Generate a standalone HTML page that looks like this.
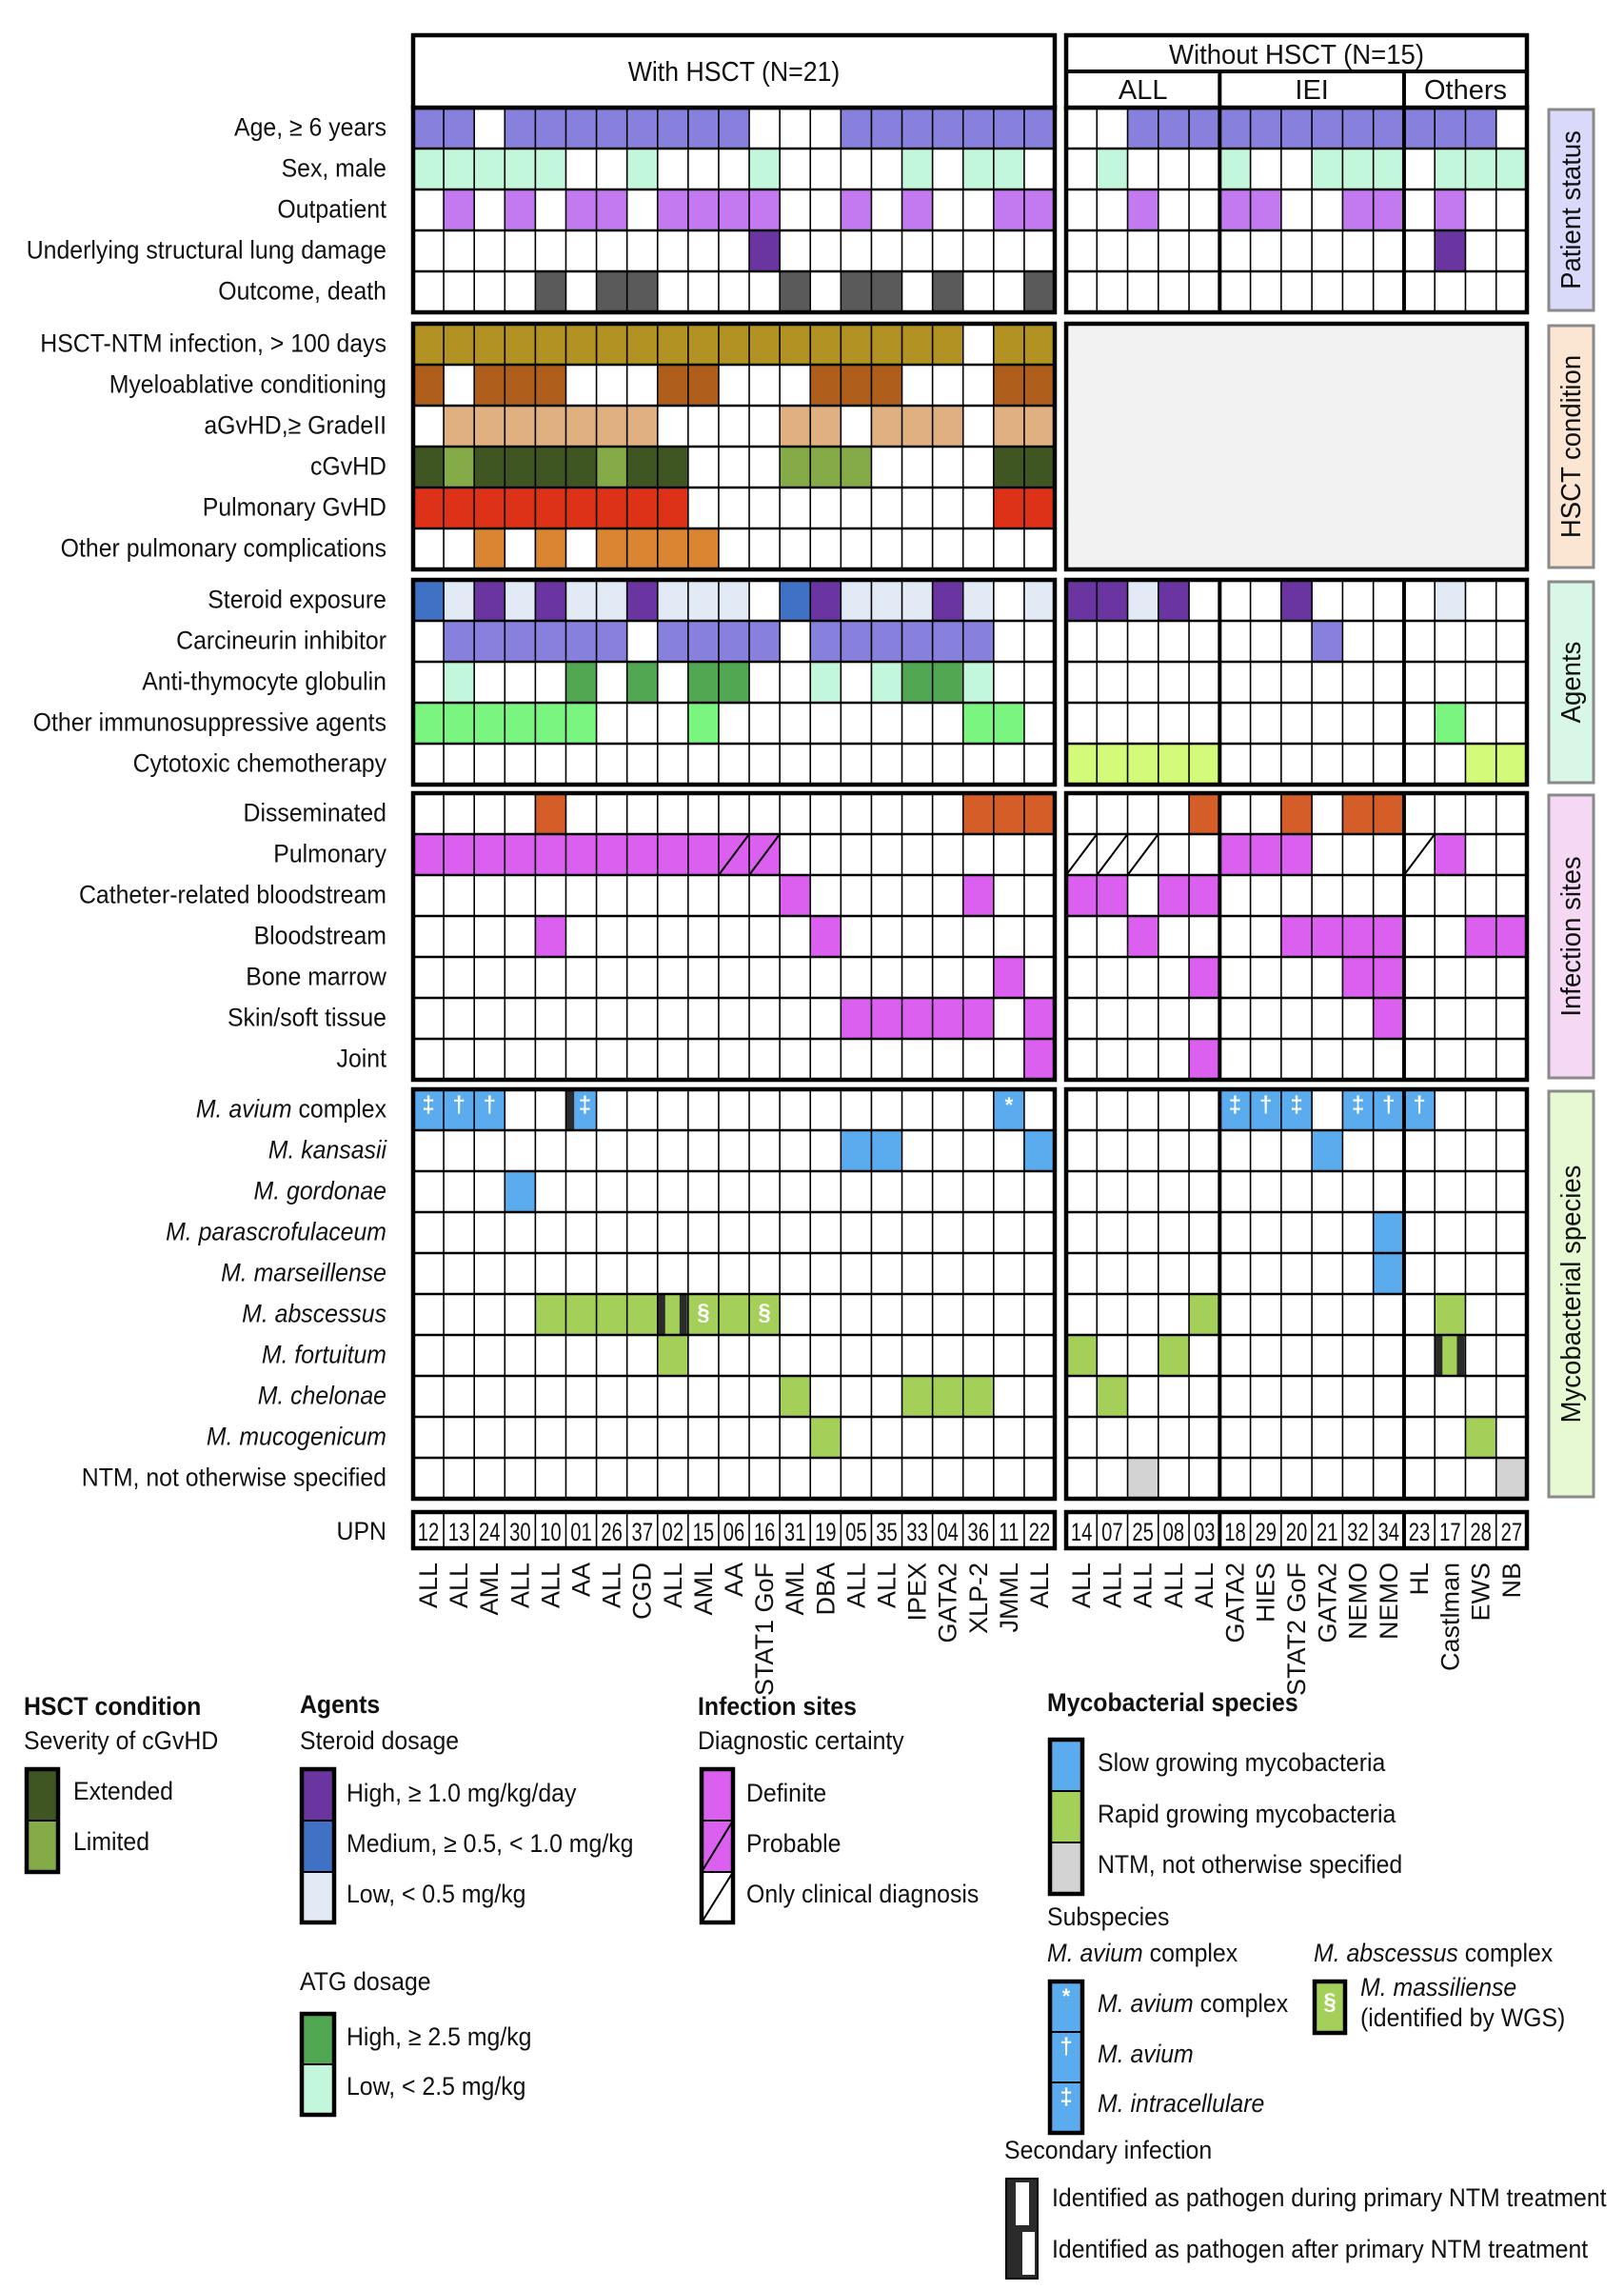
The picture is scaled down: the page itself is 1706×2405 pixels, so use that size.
<!DOCTYPE html>
<html><head><meta charset="utf-8"><style>
html,body{margin:0;padding:0;background:#fff;}
svg{display:block;font-family:"Liberation Sans",sans-serif;}
</style></head><body>
<svg id="chart" width="1706" height="2405" viewBox="0 0 1706 2405" xmlns="http://www.w3.org/2000/svg"></svg>
<script>
// ---- data ----
const upnLeft = ['12','13','24','30','10','01','26','37','02','15','06','16','31','19','05','35','33','04','36','11','22'];
const dxLeft = ['ALL','ALL','AML','ALL','ALL','AA','ALL','CGD','ALL','AML','AA','STAT1 GoF','AML','DBA','ALL','ALL','IPEX','GATA2','XLP-2','JMML','ALL'];
const upnRight = ['14','07','25','08','03','18','29','20','21','32','34','23','17','28','27'];
const dxRight = ['ALL','ALL','ALL','ALL','ALL','GATA2','HIES','STAT2 GoF','GATA2','NEMO','NEMO','HL','Castlman','EWS','NB'];

const ageL = '110111111110001111111';
const ageR = '001111111111110';
const sexL = '111110010001000010110';
const sexR = '010001001110111';
const outL = '010101101111001010011';
const outR = '001001100110100';
const lungL = '000000000001000000000';
const lungR = '000000000000100';
const deathL = '000010110000101101001';
const deathR = '000000000000000';
const hsctL = '111111111111111111011';
const maL = '101110001100011100011';
const agvhdL = '011111110000110111011';
const cgvhdL = 'ELEEEELEE000LLL0000EE';
const pgvhdL = '111111111000000000011';
const opcL = '001010111100000000000';
const steroidL = 'MLHLHLLHLLL0MHLLLHL0L';
const steroidR = 'HHLH000H0000L00';
const cniL = '011111101111011111100';
const cniR = '000000001000000';
const atgL = '0L000H0H0HH00L0LHHL00';
const atgR = '000000000000000';
const otherIsL = '111111000100000000110';
const otherIsR = '000000000000100';
const cytoL = '000000000000000000000';
const cytoR = '111110000000011';
const dissL = '000010000000000000111';
const dissR = '000010010110000';
const pulmL = 'DDDDDDDDDDPP000000000';
const pulmR = 'CCC00DDD000CD00';
const cathL = '000000000000100000100';
const cathR = '110110000000000';
const bloodL = '000010000000010000000';
const bloodR = '001000011110011';
const bmL = '000000000000000000010';
const bmR = '000010000110000';
const skinL = '000000000000001111101';
const skinR = '000000000010000';
const jointL = '000000000000000000001';
const jointR = '000010000000000';
const macL = ['S‡','S†','S†','','','Sx‡','','','','','','','','','','','','','','S*',''];
const macR = ['','','','','','S‡','S†','S‡','','S‡','S†','S†','','',''];
const kanL = ['','','','','','','','','','','','','','','S','S','','','','','S'];
const kanR = ['','','','','','','','','S','','','','','',''];
const gorL = ['','','','S','','','','','','','','','','','','','','','','',''];
const gorR = ['','','','','','','','','','','','','','',''];
const parL = ['','','','','','','','','','','','','','','','','','','','',''];
const parR = ['','','','','','','','','','','S','','','',''];
const marL = ['','','','','','','','','','','','','','','','','','','','',''];
const marR = ['','','','','','','','','','','S','','','',''];
const absL = ['','','','','R','R','R','R','Ry','R§','R','R§','','','','','','','','',''];
const absR = ['','','','','R','','','','','','','','R','',''];
const fortL = ['','','','','','','','','R','','','','','','','','','','','',''];
const fortR = ['R','','','R','','','','','','','','','Ry','',''];
const cheL = ['','','','','','','','','','','','','R','','','','R','R','R','',''];
const cheR = ['','R','','','','','','','','','','','','',''];
const mucL = ['','','','','','','','','','','','','','R','','','','','','',''];
const mucR = ['','','','','','','','','','','','','','R',''];
const nosL = ['','','','','','','','','','','','','','','','','','','','',''];
const nosR = ['','','N','','','','','','','','','','','','N'];

// ---- layout ----
const NS='http://www.w3.org/2000/svg';
const svg=document.getElementById('chart');
const LX0=434, LX1=1108, RX0=1120, RX1=1604;
const LCW=(LX1-LX0)/upnLeft.length, RCW=(RX1-RX0)/upnRight.length;
const RH=43;
const xL=i=>LX0+i*LCW, xR=i=>RX0+i*RCW;

function mk(tag,attrs,name,inter,parent){
  const el=document.createElementNS(NS,tag);
  for(const k in attrs) el.setAttribute(k,attrs[k]);
  
  
  (parent||svg).appendChild(el);
  return el;
}
function txt(x,y,parts,o){
  o=o||{};
  const sx=o.sx||0.92;
  let tr='translate('+x+','+y+')';
  if(o.rot) tr+=' rotate('+o.rot+')';
  tr+=' scale('+sx+',1)';
  const t=mk('text',{transform:tr,'font-size':o.size||27,'text-anchor':o.anchor||'start',
    'font-weight':o.weight||'normal',fill:o.fill||'#111'},o.name||'label',false);
  if(typeof parts==='string') parts=[[parts,false]];
  parts.forEach(p=>{
    const ts=document.createElementNS(NS,'tspan');
    ts.textContent=p[0];
    if(p[1]) ts.setAttribute('font-style','italic');
    t.appendChild(ts);
  });
  return t;
}
function ltxt(x,y,parts,o){ return txt(x,y-5,parts,o); }

const colors={
  age:{'1':'#8880dd'}, sex:{'1':'#c3f7dc'}, out:{'1':'#c37af0'}, lung:{'1':'#6a35a0'}, death:{'1':'#5a5a5a'},
  hsct:{'1':'#b39224'}, ma:{'1':'#b05e1c'}, agvhd:{'1':'#e0b081'}, cgvhd:{E:'#3f5522',L:'#85ab48'},
  pgvhd:{'1':'#dd3218'}, opc:{'1':'#d98532'},
  steroid:{H:'#6a35a0',M:'#3f72c4',L:'#e2eaf5'}, cni:{'1':'#8880dd'}, atg:{H:'#52a852',L:'#c3f7dc'},
  otheris:{'1':'#7af57f'}, cyto:{'1':'#d4fa7a'},
  diss:{'1':'#d45d28'}, inf:{'1':'#dc60f0',D:'#dc60f0',P:'#dc60f0',C:'#ffffff'},
  sp:{S:'#5aacee',R:'#a4d05a',N:'#d3d3d3'}
};

const groups=[
  {top:113,title:'Patient status',bg:'#d9d9fa',rows:[
    ['Age, ≥ 6 years',ageL,ageR,'age'],['Sex, male',sexL,sexR,'sex'],['Outpatient',outL,outR,'out'],
    ['Underlying structural lung damage',lungL,lungR,'lung'],['Outcome, death',deathL,deathR,'death']]},
  {top:340,title:'HSCT condition',bg:'#fbe5d3',noRight:true,rows:[
    ['HSCT-NTM infection, > 100 days',hsctL,null,'hsct'],['Myeloablative conditioning',maL,null,'ma'],
    ['aGvHD,≥ GradeII',agvhdL,null,'agvhd'],['cGvHD',cgvhdL,null,'cgvhd'],['Pulmonary GvHD',pgvhdL,null,'pgvhd'],
    ['Other pulmonary complications',opcL,null,'opc']]},
  {top:609,title:'Agents',bg:'#d9f7e6',rows:[
    ['Steroid exposure',steroidL,steroidR,'steroid'],['Carcineurin inhibitor',cniL,cniR,'cni'],
    ['Anti-thymocyte globulin',atgL,atgR,'atg'],['Other immunosuppressive agents',otherIsL,otherIsR,'otheris'],
    ['Cytotoxic chemotherapy',cytoL,cytoR,'cyto']]},
  {top:833,title:'Infection sites',bg:'#f4d8f4',rows:[
    ['Disseminated',dissL,dissR,'diss'],['Pulmonary',pulmL,pulmR,'inf'],['Catheter-related bloodstream',cathL,cathR,'inf'],
    ['Bloodstream',bloodL,bloodR,'inf'],['Bone marrow',bmL,bmR,'inf'],['Skin/soft tissue',skinL,skinR,'inf'],['Joint',jointL,jointR,'inf']]},
  {top:1144,title:'Mycobacterial species',bg:'#e6f9d3',rows:[
    [[['M. avium',true],[' complex',false]],macL,macR,'sp'],[[['M. kansasii',true]],kanL,kanR,'sp'],
    [[['M. gordonae',true]],gorL,gorR,'sp'],[[['M. parascrofulaceum',true]],parL,parR,'sp'],
    [[['M. marseillense',true]],marL,marR,'sp'],[[['M. abscessus',true]],absL,absR,'sp'],
    [[['M. fortuitum',true]],fortL,fortR,'sp'],[[['M. chelonae',true]],cheL,cheR,'sp'],
    [[['M. mucogenicum',true]],mucL,mucR,'sp'],['NTM, not otherwise specified',nosL,nosR,'sp']]}
];

function drawCell(code,x,y,w,h,map,name){
  if(!code||code==='0') return;
  const c=code[0];
  const fill=map[c];
  if(!fill) return;
  mk('rect',{x:x,y:y,width:w,height:h,fill:fill},name,false);
  if(c==='P'||c==='C'){
    mk('line',{x1:x,y1:y+h,x2:x+w,y2:y,stroke:'#000','stroke-width':2},name+'-slash',false);
  }
  let sym=code.slice(1);
  if(sym[0]==='x'){ mk('rect',{x:x,y:y,width:w*0.27,height:h,fill:'#2b2b2b'},'secondary-after-marker',false); sym=sym.slice(1); }
  if(sym[0]==='y'){
    mk('rect',{x:x,y:y,width:w*0.25,height:h,fill:'#2b2b2b'},'secondary-during-marker',false);
    mk('rect',{x:x+w*0.72,y:y,width:w*0.25,height:h,fill:'#2b2b2b'},'secondary-during-marker',false);
    mk('rect',{x:x+w*0.97,y:y,width:w*0.03,height:h,fill:'#fff'},'secondary-gap',false);
    sym=sym.slice(1);
  }
  if(sym){
    const cx=x+w*(code.indexOf('x')===1?0.62:0.5);
    txt(cx,y+(sym==='§'?27:24),sym,{size:sym==='*'?22:24,anchor:'middle',fill:'#fff',weight:'bold',sx:1,name:'subspecies-symbol'});
  }
}

function gridLines(x0,x1,n,top,rows,thick){
  const cw=(x1-x0)/n, bottom=top+rows*RH;
  for(let i=1;i<n;i++){
    const w=thick.indexOf(i)>=0?4:1.6;
    mk('line',{x1:x0+i*cw,y1:top,x2:x0+i*cw,y2:bottom,stroke:'#000','stroke-width':w},'grid-vline',false);
  }
  for(let r=1;r<rows;r++){
    mk('line',{x1:x0,y1:top+r*RH,x2:x1,y2:top+r*RH,stroke:'#000','stroke-width':2.6},'grid-hline',false);
  }
  mk('rect',{x:x0,y:top,width:x1-x0,height:bottom-top,fill:'none',stroke:'#000','stroke-width':4.5},'grid-border',false);
}

groups.forEach((g,gi)=>{
  const n=g.rows.length, bottom=g.top+n*RH;
  g.rows.forEach((row,ri)=>{
    const y=g.top+ri*RH;
    const lab=typeof row[0]==='string'?[[row[0],false]]:row[0];
    txt(406,y+RH/2+8,lab,{anchor:'end',name:'row-label'});
    const L=row[1], R=row[2];
    for(let c=0;c<upnLeft.length;c++){
      drawCell(L[c],xL(c),y,LCW,RH,colors[row[3]],'cell');
    }
    if(R){
      for(let c=0;c<upnRight.length;c++){
        drawCell(R[c],xR(c),y,RCW,RH,colors[row[3]],'cell');
      }
    }
  });
  gridLines(LX0,LX1,upnLeft.length,g.top,n,[]);
  if(g.noRight){
    mk('rect',{x:RX0,y:g.top,width:RX1-RX0,height:bottom-g.top,fill:'#f2f2f2',stroke:'#000','stroke-width':4.5},'no-hsct-placeholder',false);
  } else {
    gridLines(RX0,RX1,upnRight.length,g.top,n,[5,11]);
  }
  mk('rect',{x:1627,y:g.top+2,width:47,height:bottom-g.top-4,fill:g.bg,stroke:'#8a8a8a','stroke-width':3},'group-label-box',false);
  txt(1660,(g.top+bottom)/2,g.title,{rot:-90,anchor:'middle',size:29,sx:0.95,name:'group-label'});
});

// headers
mk('rect',{x:LX0,y:37,width:LX1-LX0,height:76,fill:'#fff',stroke:'#000','stroke-width':4.5},'with-hsct-header',false);
txt((LX0+LX1)/2,85,'With HSCT (N=21)',{anchor:'middle',size:29,sx:0.92,name:'with-hsct-title'});
mk('rect',{x:RX0,y:37,width:RX1-RX0,height:76,fill:'#fff',stroke:'#000','stroke-width':4.5},'without-hsct-header',false);
mk('line',{x1:RX0,y1:75,x2:RX1,y2:75,stroke:'#000','stroke-width':4},'header-divider',false);
mk('line',{x1:xR(5),y1:75,x2:xR(5),y2:113,stroke:'#000','stroke-width':4},'header-divider',false);
mk('line',{x1:xR(11),y1:75,x2:xR(11),y2:113,stroke:'#000','stroke-width':4},'header-divider',false);
txt((RX0+RX1)/2,67,'Without HSCT (N=15)',{anchor:'middle',size:29,sx:0.95,name:'without-hsct-title'});
txt((xR(0)+xR(5))/2,104,'ALL',{anchor:'middle',size:29,sx:1,name:'subgroup-all'});
txt((xR(5)+xR(11))/2,104,'IEI',{anchor:'middle',size:29,sx:1,name:'subgroup-iei'});
txt((xR(11)+RX1)/2,104,'Others',{anchor:'middle',size:29,sx:1,name:'subgroup-others'});

// UPN row
txt(406,1617,'UPN',{anchor:'end',name:'upn-label'});
function upnBox(x0,x1,upns,dxs,xf,cw,thick){
  for(let i=0;i<upns.length;i++){
    txt(xf(i)+cw/2,1618,upns[i],{anchor:'middle',size:27,sx:0.75,name:'upn-number'});
    txt(xf(i)+cw/2+9,1641,dxs[i],{anchor:'end',rot:-90,size:27,sx:1,name:'diagnosis-label'});
    if(i>0){
      mk('line',{x1:xf(i),y1:1588,x2:xf(i),y2:1626,stroke:'#000','stroke-width':thick.indexOf(i)>=0?4:1.6},'upn-divider',false);
    }
  }
  mk('rect',{x:x0,y:1588,width:x1-x0,height:38,fill:'none',stroke:'#000','stroke-width':4.5},'upn-box',false);
}
upnBox(LX0,LX1,upnLeft,dxLeft,xL,LCW,[]);
upnBox(RX0,RX1,upnRight,dxRight,xR,RCW,[5,11]);

// ---- legend ----
function sw(x,y,w,h,fill,name){ return mk('rect',{x:x,y:y,width:w,height:h,fill:fill,stroke:'#000','stroke-width':2},name,false); }
function frame(x,y,w,h){ mk('rect',{x:x,y:y,width:w,height:h,fill:'none',stroke:'#000','stroke-width':4.5},'legend-frame',false); }
const LS=27;
ltxt(25,1806,'HSCT condition',{weight:'bold',size:LS,name:'legend-title-hsct'});
ltxt(25,1842,'Severity of cGvHD',{size:LS,name:'legend-subtitle'});
sw(28,1858,33,54,'#3f5522','legend-swatch-extended'); sw(28,1912,33,54,'#85ab48','legend-swatch-limited'); frame(28,1858,33,108);
ltxt(77,1895,'Extended',{size:LS,name:'legend-label'}); ltxt(77,1948,'Limited',{size:LS,name:'legend-label'});
ltxt(315,1804,'Agents',{weight:'bold',size:LS,name:'legend-title-agents'});
ltxt(315,1842,'Steroid dosage',{size:LS,name:'legend-subtitle'});
sw(317,1858,34,54,'#6a35a0','legend-swatch'); sw(317,1912,34,54,'#3f72c4','legend-swatch'); sw(317,1966,34,53,'#e2eaf5','legend-swatch'); frame(317,1858,34,161);
ltxt(364,1897,'High, ≥ 1.0 mg/kg/day',{size:LS,name:'legend-label'});
ltxt(364,1950,'Medium, ≥ 0.5, < 1.0 mg/kg',{size:LS,name:'legend-label'});
ltxt(364,2003,'Low, < 0.5 mg/kg',{size:LS,name:'legend-label'});
ltxt(315,2095,'ATG dosage',{size:LS,name:'legend-subtitle'});
sw(317,2115,34,53,'#52a852','legend-swatch'); sw(317,2168,34,53,'#c3f7dc','legend-swatch'); frame(317,2115,34,106);
ltxt(364,2153,'High, ≥ 2.5 mg/kg',{size:LS,name:'legend-label'});
ltxt(364,2205,'Low, < 2.5 mg/kg',{size:LS,name:'legend-label'});
ltxt(733,1806,'Infection sites',{weight:'bold',size:LS,name:'legend-title-infection'});
ltxt(733,1842,'Diagnostic certainty',{size:LS,name:'legend-subtitle'});
sw(737,1858,33,54,'#dc60f0','legend-swatch'); sw(737,1912,33,54,'#dc60f0','legend-swatch'); sw(737,1966,33,53,'#fff','legend-swatch');
mk('line',{x1:737,y1:1966,x2:770,y2:1912,stroke:'#000','stroke-width':2},'legend-slash',false);
mk('line',{x1:737,y1:2019,x2:770,y2:1966,stroke:'#000','stroke-width':2},'legend-slash',false);
frame(737,1858,33,161);
ltxt(784,1897,'Definite',{size:LS,name:'legend-label'});
ltxt(784,1950,'Probable',{size:LS,name:'legend-label'});
ltxt(784,2003,'Only clinical diagnosis',{size:LS,name:'legend-label'});
ltxt(1100,1802,'Mycobacterial species',{weight:'bold',size:LS,name:'legend-title-species'});
sw(1103,1827,34,54,'#5aacee','legend-swatch'); sw(1103,1881,34,54,'#a4d05a','legend-swatch'); sw(1103,1935,34,54,'#d3d3d3','legend-swatch'); frame(1103,1827,34,162);
ltxt(1153,1865,'Slow growing mycobacteria',{size:LS,name:'legend-label'});
ltxt(1153,1919,'Rapid growing mycobacteria',{size:LS,name:'legend-label'});
ltxt(1153,1972,'NTM, not otherwise specified',{size:LS,name:'legend-label'});
ltxt(1100,2027,'Subspecies',{size:LS,name:'legend-subtitle'});
ltxt(1100,2065,[['M. avium',true],[' complex',false]],{size:LS,name:'legend-subtitle'});
sw(1103,2081,34,53,'#5aacee','legend-swatch'); sw(1103,2134,34,53,'#5aacee','legend-swatch'); sw(1103,2187,34,53,'#5aacee','legend-swatch'); frame(1103,2081,34,159);
txt(1120,2104,'*',{size:22,anchor:'middle',fill:'#fff',weight:'bold',sx:1,name:'legend-symbol'});
txt(1120,2157,'†',{size:24,anchor:'middle',fill:'#fff',weight:'bold',sx:1,name:'legend-symbol'});
txt(1120,2210,'‡',{size:24,anchor:'middle',fill:'#fff',weight:'bold',sx:1,name:'legend-symbol'});
ltxt(1153,2118,[['M. avium',true],[' complex',false]],{size:LS,name:'legend-label'});
ltxt(1153,2171,[['M. avium',true]],{size:LS,name:'legend-label'});
ltxt(1153,2223,[['M. intracellulare',true]],{size:LS,name:'legend-label'});
ltxt(1380,2065,[['M. abscessus',true],[' complex',false]],{size:LS,name:'legend-subtitle'});
sw(1381,2081,32,54,'#a4d05a','legend-swatch'); frame(1381,2081,32,54);
txt(1397,2110,'§',{size:24,anchor:'middle',fill:'#fff',weight:'bold',sx:1,name:'legend-symbol'});
ltxt(1429,2101,[['M. massiliense',true]],{size:LS,name:'legend-label'});
ltxt(1429,2133,'(identified by WGS)',{size:LS,name:'legend-label'});
ltxt(1055,2272,'Secondary infection',{size:LS,name:'legend-subtitle'});
mk('rect',{x:1057,y:2288,width:33,height:105,fill:'#2b2b2b',stroke:'#000','stroke-width':2},'legend-secondary-swatch',false);
mk('rect',{x:1067,y:2292,width:14,height:45,fill:'#fff'},'legend-secondary-during',false);
mk('rect',{x:1074,y:2344,width:13,height:45,fill:'#fff'},'legend-secondary-after',false);
ltxt(1105,2322,'Identified as pathogen during primary NTM treatment',{size:LS,name:'legend-label'});
ltxt(1105,2376,'Identified as pathogen after primary NTM treatment',{size:LS,name:'legend-label'});
</script>
</body></html>
